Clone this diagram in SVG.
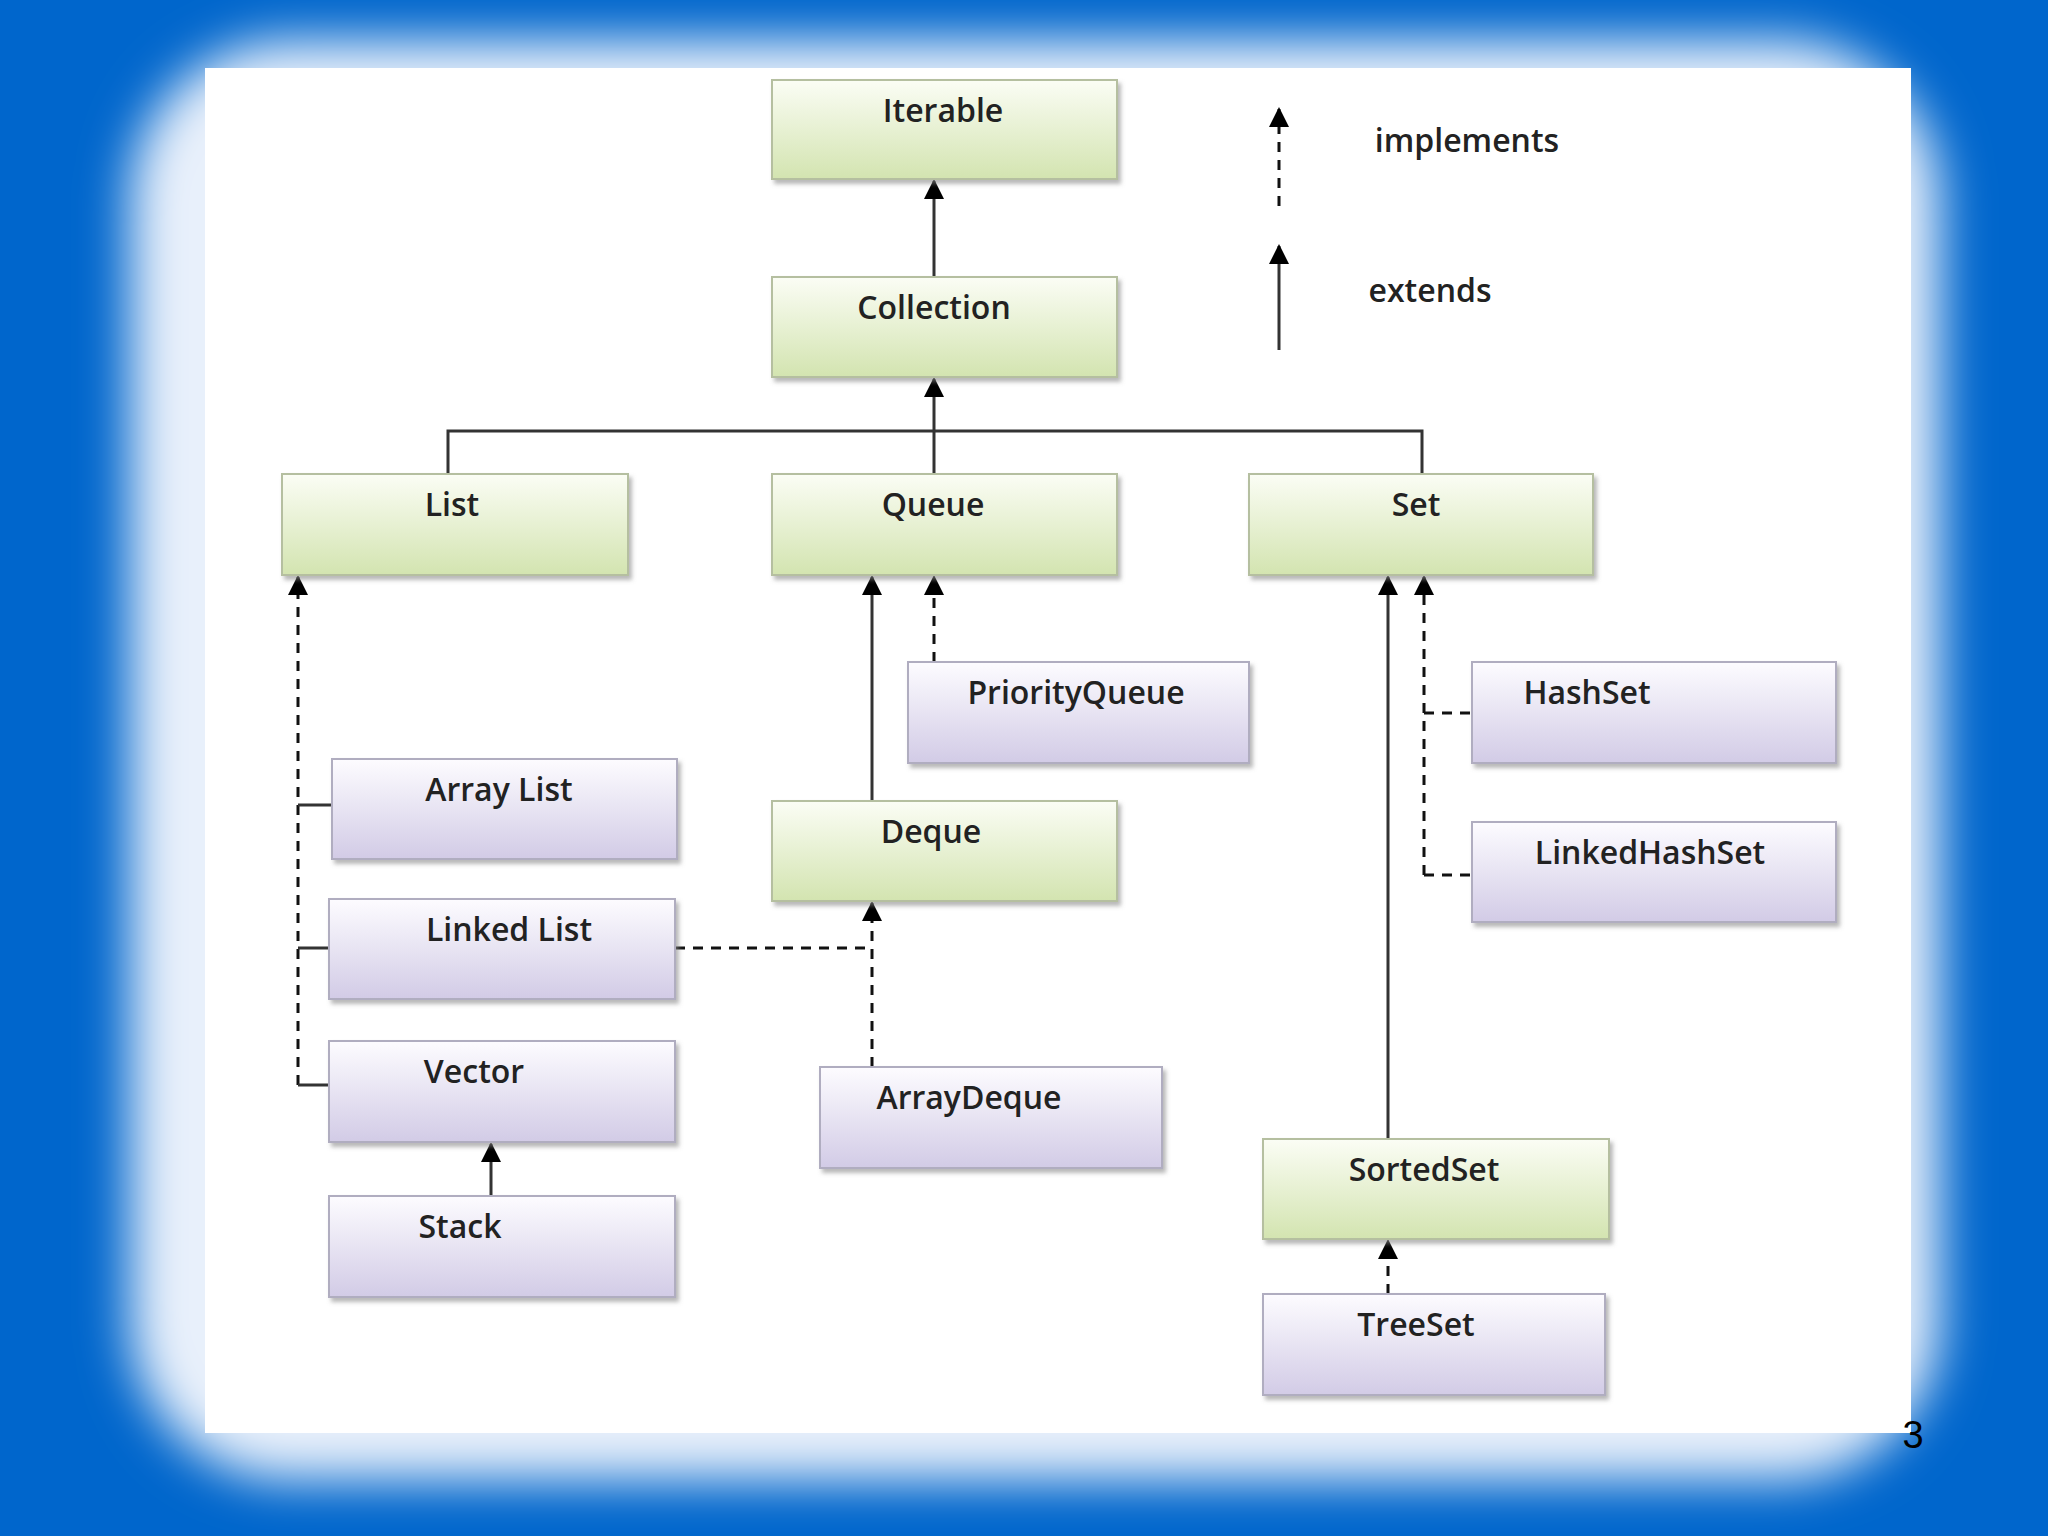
<svg xmlns="http://www.w3.org/2000/svg" width="2048" height="1536" viewBox="0 0 2048 1536">
<style>
.t{font-family:"Open Sans","DejaVu Sans",sans-serif;font-size:32px;font-weight:600;fill:#222;text-anchor:middle}
.g{fill:url(#gg);stroke:#b5bfa0;stroke-width:2;filter:url(#sh)}
.p{fill:url(#gp);stroke:#b0adc0;stroke-width:2;filter:url(#sh)}
.s{fill:none;stroke:#333;stroke-width:3}
.d{fill:none;stroke:#111;stroke-width:3;stroke-dasharray:10,8}
</style>
<defs>
<linearGradient id="gg" x1="0" y1="0" x2="0" y2="1"><stop offset="0" stop-color="#fbfdf5"/><stop offset="1" stop-color="#d3e4b0"/></linearGradient>
<linearGradient id="gp" x1="0" y1="0" x2="0" y2="1"><stop offset="0" stop-color="#fdfcff"/><stop offset="1" stop-color="#d2cbe6"/></linearGradient>
<filter id="sh" x="-5%" y="-5%" width="115%" height="125%"><feDropShadow dx="3" dy="4" stdDeviation="2" flood-color="#888" flood-opacity="0.6"/></filter>
<filter id="bl"><feGaussianBlur stdDeviation="25"/></filter>
<marker id="ar" viewBox="0 0 10 10" refX="9" refY="5" markerWidth="22" markerHeight="20" orient="auto" markerUnits="userSpaceOnUse"><path d="M0,0 L10,5 L0,10 Z" fill="#000"/></marker>
</defs>
<rect width="2048" height="1536" fill="#0066cc"/>
<rect x="130" y="40" width="1810" height="1440" rx="160" fill="#e8f0fb" filter="url(#bl)"/>
<rect x="205" y="68" width="1706" height="1365" fill="#fff"/>
<g id="connectors">
<path class="s" d="M934,277 V181" marker-end="url(#ar)"/>
<path class="s" d="M934,474 V379" marker-end="url(#ar)"/>
<path class="s" d="M448,474 V431 H1422 V474"/>
<path class="d" d="M298,1085 V577" marker-end="url(#ar)"/>
<path class="s" d="M298,805 H332 M298,948 H329 M298,1085 H329"/>
<path class="s" d="M872,801 V577" marker-end="url(#ar)"/>
<path class="d" d="M934,662 V577" marker-end="url(#ar)"/>
<path class="d" d="M675,948 H872"/>
<path class="d" d="M872,1067 V903" marker-end="url(#ar)"/>
<path class="s" d="M491,1196 V1144" marker-end="url(#ar)"/>
<path class="s" d="M1388,1139 V577" marker-end="url(#ar)"/>
<path class="d" d="M1424,875 V577" marker-end="url(#ar)"/>
<path class="d" d="M1424,713 H1472 M1424,875 H1472"/>
<path class="d" d="M1388,1294 V1241" marker-end="url(#ar)"/>
<path class="d" d="M1279,206 V109" marker-end="url(#ar)"/>
<path class="s" d="M1279,350 V246" marker-end="url(#ar)"/>
</g>
<g id="legend">
<text class="t" x="1467" y="152">implements</text>
<text class="t" x="1430" y="302">extends</text>
</g>
<g id="Iterable"><rect class="g" x="772" y="80" width="345" height="99"/><text class="t" x="943" y="122">Iterable</text></g>
<g id="Collection"><rect class="g" x="772" y="277" width="345" height="100"/><text class="t" x="934" y="319">Collection</text></g>
<g id="List"><rect class="g" x="282" y="474" width="346" height="101"/><text class="t" x="452" y="516">List</text></g>
<g id="Queue"><rect class="g" x="772" y="474" width="345" height="101"/><text class="t" x="933" y="516">Queue</text></g>
<g id="Set"><rect class="g" x="1249" y="474" width="344" height="101"/><text class="t" x="1416" y="516">Set</text></g>
<g id="PriorityQueue"><rect class="p" x="908" y="662" width="341" height="101"/><text class="t" x="1076" y="704">PriorityQueue</text></g>
<g id="HashSet"><rect class="p" x="1472" y="662" width="364" height="101"/><text class="t" x="1587" y="704">HashSet</text></g>
<g id="ArrayList"><rect class="p" x="332" y="759" width="345" height="100"/><text class="t" x="499" y="801">Array List</text></g>
<g id="Deque"><rect class="g" x="772" y="801" width="345" height="100"/><text class="t" x="931" y="843">Deque</text></g>
<g id="LinkedHashSet"><rect class="p" x="1472" y="822" width="364" height="100"/><text class="t" x="1650" y="864">LinkedHashSet</text></g>
<g id="LinkedList"><rect class="p" x="329" y="899" width="346" height="100"/><text class="t" x="509" y="941">Linked List</text></g>
<g id="Vector"><rect class="p" x="329" y="1041" width="346" height="101"/><text class="t" x="474" y="1083">Vector</text></g>
<g id="ArrayDeque"><rect class="p" x="820" y="1067" width="342" height="101"/><text class="t" x="969" y="1109">ArrayDeque</text></g>
<g id="SortedSet"><rect class="g" x="1263" y="1139" width="346" height="100"/><text class="t" x="1424" y="1181">SortedSet</text></g>
<g id="Stack"><rect class="p" x="329" y="1196" width="346" height="101"/><text class="t" x="460" y="1238">Stack</text></g>
<g id="TreeSet"><rect class="p" x="1263" y="1294" width="342" height="101"/><text class="t" x="1416" y="1336">TreeSet</text></g>
<text x="1913" y="1448" font-family="Liberation Sans,sans-serif" font-size="38" text-anchor="middle" fill="#000">3</text>
</svg>
